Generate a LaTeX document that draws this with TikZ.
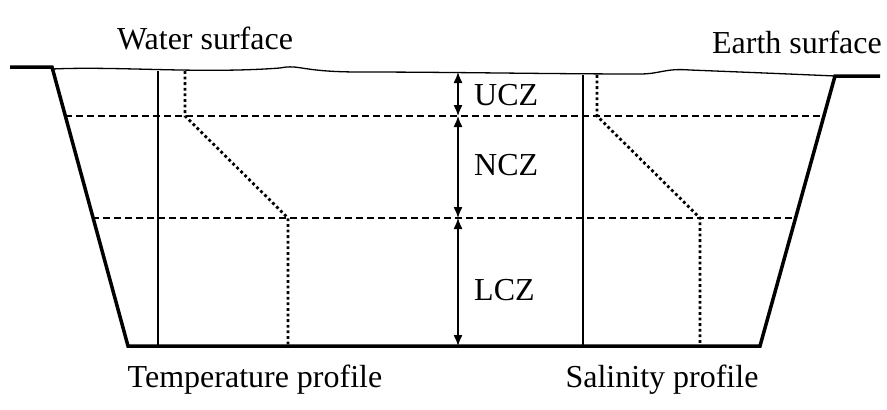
\documentclass[tikz,border=0pt]{standalone}
\usepackage{fontspec}
\setmainfont{Liberation Serif}
\usetikzlibrary{arrows.meta}
\begin{document}
\begin{tikzpicture}[x=1pt,y=-1pt,
  wall/.style={line width=3.5pt},
  thin/.style={line width=1.3pt},
  prof/.style={line width=2.8pt,dash pattern=on 2.8pt off 2.8pt},
  dim/.style={{Latex[length=11pt,width=9pt]}-{Latex[length=11pt,width=9pt]},line width=1.3pt},
  lbl/.style={font=\fontsize{32}{36}\selectfont,inner sep=0pt}]
\useasboundingbox (0,0) rectangle (887,410);
\coordinate (g1) at (10,67); \coordinate (g2) at (52,67);
\coordinate (b1) at (128,346); \coordinate (b2) at (760,346);
\coordinate (r1) at (835,76); \coordinate (r2) at (880,76);
\draw[wall] (g1) -- (g2) -- (b1) -- (b2) -- (r1) -- (r2);
% water surface
\draw[thin] (52,69) .. controls (120,66) and (200,74) .. (280,68)
  .. controls (300,64) and (300,72) .. (360,72) .. controls (450,72) and (550,74) .. (640,74)
  .. controls (660,74) and (665,68) .. (690,70) .. controls (740,72) and (790,74) .. (835,76);
% dashed levels
\draw[thin,dash pattern=on 7pt off 4pt] (65,116) -- (822,116);
\draw[thin,dash pattern=on 7pt off 4pt] (92,218) -- (795,218);
% profiles
\draw[thin] (158,71) -- (158,346);
\draw[thin] (583,75) -- (583,346);
\draw[prof] (185,71) -- (185,116) -- (288,218) -- (288,346);
\draw[prof] (597,75) -- (597,116) -- (700,218) -- (700,346);
% zones
\coordinate (z0) at (458,72); \coordinate (z1) at (458,116);
\coordinate (z2) at (458,218); \coordinate (z3) at (458,346);
\draw[dim] (z0) -- (z1);
\draw[dim] (z1) -- (z2);
\draw[dim] (z2) -- (z3);
\node[lbl,anchor=west] (ucz) at (474,95) {UCZ};
\node[lbl,anchor=west] (ncz) at (474,165) {NCZ};
\node[lbl,anchor=west] (lcz) at (474,290) {LCZ};
\node[lbl] (ws) at (205,38) {Water surface};
\node[lbl] (es) at (797,42) {Earth surface};
\node[lbl] (tp) at (255,380) {Temperature profile};
\node[lbl] (sp) at (662,380) {Salinity profile};
\end{tikzpicture}
\end{document}
